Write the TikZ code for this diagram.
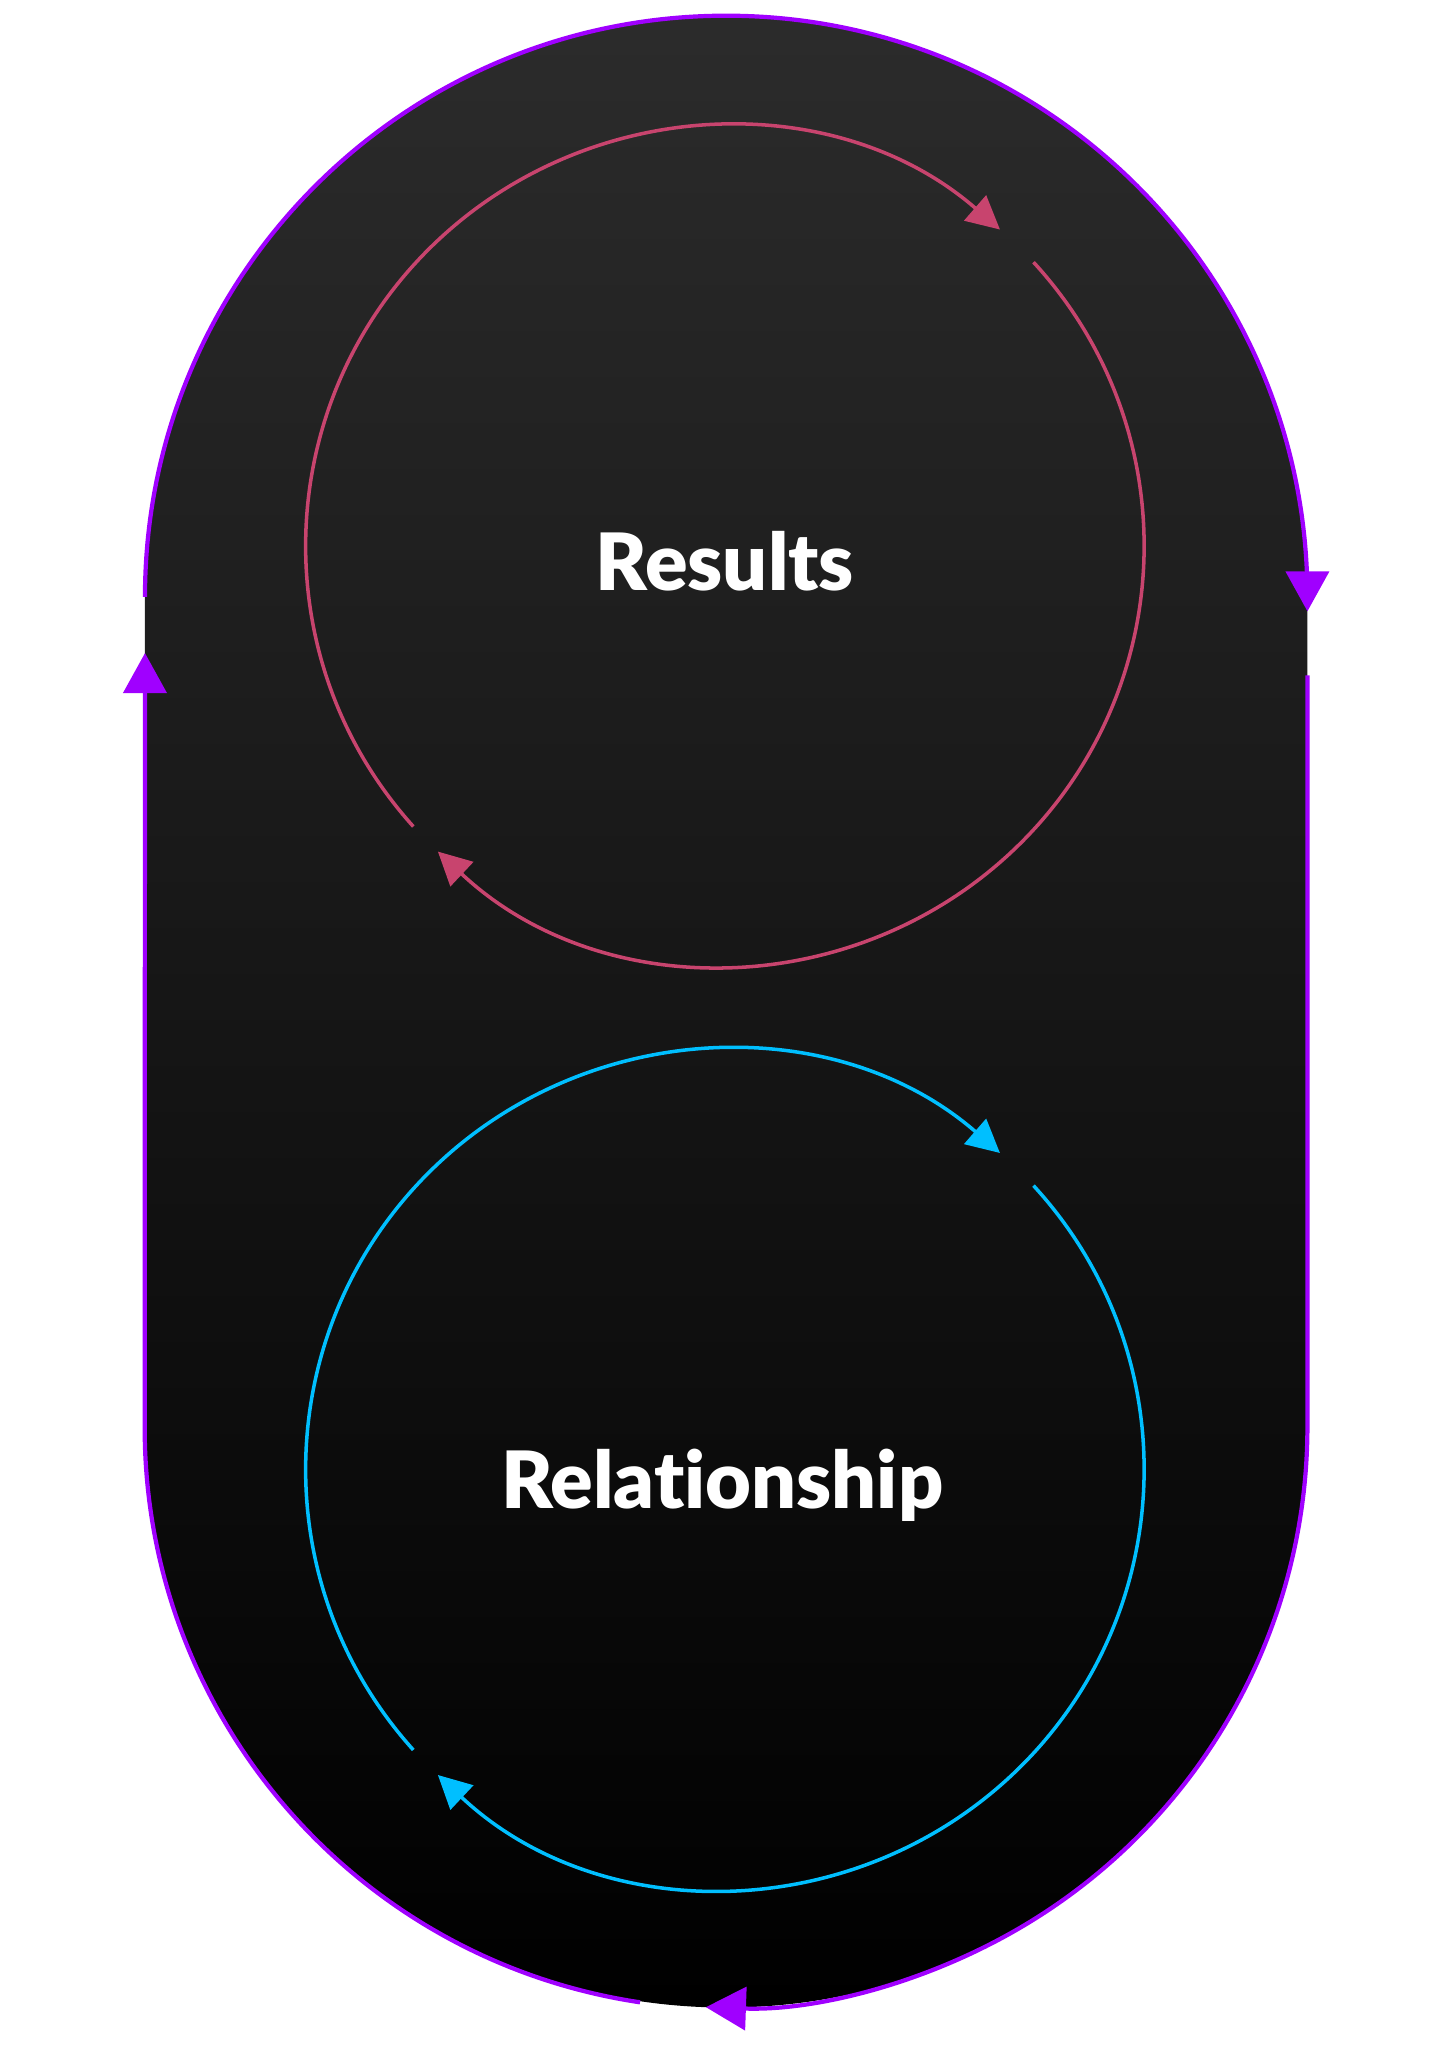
\documentclass[tikz,border=0pt]{standalone}
\usepackage{fontspec}
\setmainfont{Lato}[BoldFont={Lato Black}, Ligatures=NoCommon]
\usetikzlibrary{arrows.meta}
\definecolor{loopviolet}{HTML}{A000FF}
\definecolor{resultpink}{HTML}{C8446E}
\definecolor{relcyan}{HTML}{00BFFF}
\begin{document}
\begin{tikzpicture}[
    x=0.013063cm, y=-0.013063cm,
    outer/.style={draw=loopviolet, line width=1.2pt, -{Triangle[length=0.4cm, width=0.43cm]}},
    inner/.style={line width=1pt, -{Triangle[length=0.33cm, width=0.33cm]}},
    label/.style={text=white, font=\fontsize{22.5}{26}\selectfont\bfseries}
]
\useasboundingbox (0,0) rectangle (1110,1568);

% Dark stadium background
\shade[top color=black!83, bottom color=black]
    (111,457) arc[start angle=180, end angle=360, radius=445] -- (1001,1092)
    arc[start angle=0, end angle=180, radius=445] -- cycle;

% Outer loop
\coordinate (topstart) at (111,448);
\coordinate (rightend) at (1001,468);
\coordinate (rightstart) at (1001,517);
\coordinate (bottomend) at (540,1537);
\coordinate (bottomstart) at (490,1533);
\coordinate (leftend) at (111,500);
\draw[outer] (topstart) -- (111,457) arc[start angle=180, end angle=360, radius=445] -- (rightend);
\draw[outer] (rightstart) -- (1001,1092) arc[start angle=0, end angle=92, radius=445];
\draw[outer] (bottomstart) arc[start angle=98.5, end angle=180, radius=445] -- (leftend);

% Results loop
\node[label] (results) at (555,430) {Results};
\draw[inner, resultpink] (results.center) ++(0,-12) ++(-222:321) arc[start angle=-222, end angle=-49, radius=321];
\draw[inner, resultpink] (results.center) ++(0,-12) ++(-42.6:321) arc[start angle=-42.6, end angle=133.2, radius=321];

% Relationship loop
\node[label] (relationship) at (553,1137) {Relationship};
\draw[inner, relcyan] (relationship.center) ++(2,-12) ++(-222:321) arc[start angle=-222, end angle=-49, radius=321];
\draw[inner, relcyan] (relationship.center) ++(2,-12) ++(-42.6:321) arc[start angle=-42.6, end angle=133.2, radius=321];
\end{tikzpicture}
\end{document}
